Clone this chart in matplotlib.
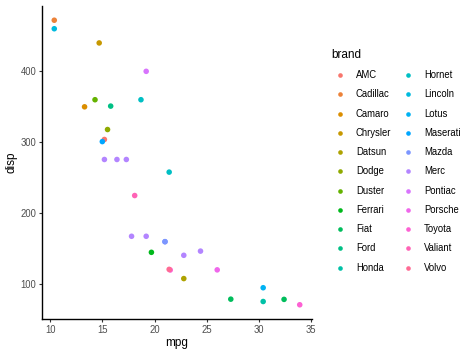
import numpy as np
import matplotlib
matplotlib.use("Agg")
import matplotlib.pyplot as plt

plt.rcParams["font.family"] = ["Liberation Sans", "DejaVu Sans"]

# mtcars: mpg / disp / brand
brands = ["AMC", "Cadillac", "Camaro", "Chrysler", "Datsun", "Dodge", "Duster",
          "Ferrari", "Fiat", "Ford", "Honda", "Hornet", "Lincoln", "Lotus",
          "Maserati", "Mazda", "Merc", "Pontiac", "Porsche", "Toyota",
          "Valiant", "Volvo"]

car_brand = ["Mazda", "Mazda", "Datsun", "Hornet", "Hornet", "Valiant", "Duster",
             "Merc", "Merc", "Merc", "Merc", "Merc", "Merc", "Merc",
             "Cadillac", "Lincoln", "Chrysler", "Fiat", "Honda", "Toyota",
             "Toyota", "Dodge", "AMC", "Camaro", "Pontiac", "Fiat", "Porsche",
             "Lotus", "Ford", "Ferrari", "Maserati", "Volvo"]
mpg = [21.0, 21.0, 22.8, 21.4, 18.7, 18.1, 14.3, 24.4, 22.8, 19.2, 17.8, 16.4,
       17.3, 15.2, 10.4, 10.4, 14.7, 32.4, 30.4, 33.9, 21.5, 15.5, 15.2, 13.3,
       19.2, 27.3, 26.0, 30.4, 15.8, 19.7, 15.0, 21.4]
disp = [160, 160, 108, 258, 360, 225, 360, 146.7, 140.8, 167.6, 167.6, 275.8,
        275.8, 275.8, 472, 460, 440, 78.7, 75.7, 71.1, 120.1, 318, 304, 350,
        400, 79, 120.3, 95.1, 351, 145, 301, 121]


# -----------------------------------------------------
# ggplot 風のデフォルト色 (hcl, c=100, l=65)
# -----------------------------------------------------
def hcl_to_hex(h, c=100.0, l=65.0):
    xn, yn, zn = 95.047, 100.0, 108.883
    un = 4 * xn / (xn + 15 * yn + 3 * zn)
    vn = 9 * yn / (xn + 15 * yn + 3 * zn)
    u = c * np.cos(np.radians(h))
    v = c * np.sin(np.radians(h))
    y = yn * ((l + 16) / 116) ** 3
    up = u / (13 * l) + un
    vp = v / (13 * l) + vn
    x = 9 * y * up / (4 * vp)
    z = (12 - 3 * up - 20 * vp) * y / (4 * vp)
    x, y, z = x / 100, y / 100, z / 100
    r = 3.2404542 * x - 1.5371385 * y - 0.4985314 * z
    g = -0.9692660 * x + 1.8760108 * y + 0.0415560 * z
    b = 0.0556434 * x - 0.2040259 * y + 1.0572252 * z
    out = []
    for ch in (r, g, b):
        ch = 12.92 * ch if ch <= 0.0031308 else 1.055 * ch ** (1 / 2.4) - 0.055
        out.append(min(max(ch, 0), 1))
    return "#%02X%02X%02X" % tuple(int(round(ch * 255)) for ch in out)


n = len(brands)
hues = np.linspace(15, 375 - 360 / n, n)
colors = {b: hcl_to_hex(h) for b, h in zip(brands, hues)}

W, H = 474, 355
fig = plt.figure(figsize=(W / 100, H / 100), dpi=100)
ax = fig.add_axes([42 / W, 1 - 319 / H, 270 / W, 313 / H])

ax.scatter(mpg, disp, c=[colors[b] for b in car_brand], s=16, linewidths=0,
           zorder=3)

ax.set_xlim(9.225, 35.075)
ax.set_ylim(51.055, 492.045)
ax.set_xticks([10, 15, 20, 25, 30, 35])
ax.set_yticks([100, 200, 300, 400])

for side in ("top", "right"):
    ax.spines[side].set_visible(False)
for side in ("left", "bottom"):
    ax.spines[side].set_linewidth(1.0)
    ax.spines[side].set_color("black")

ax.tick_params(length=2.2, width=0.8, color="#333333", labelcolor="#4D4D4D",
               labelsize=6.85, pad=1.8)
ax.set_xlabel("mpg", fontsize=8.5, labelpad=2)
ax.set_ylabel("disp", fontsize=8.5, labelpad=2)

# ---- 凡例（手描き） ----
lg = fig.add_axes([0, 0, 1, 1])
lg.set_xlim(0, W)
lg.set_ylim(H, 0)
lg.axis("off")
lg.patch.set_alpha(0)

lg.text(331, 55, "brand", fontsize=8.5, va="center", ha="left")
for i, b in enumerate(brands):
    col, row = divmod(i, 11)
    ky = 75 + row * 19.27
    kx = 340 + col * 68
    lg.scatter([kx], [ky], color=colors[b], s=11, linewidths=0)
    lg.text(kx + 16, ky, b, fontsize=6.85, va="center", ha="left",
            color="black")

fig.savefig("out.png", dpi=100)
